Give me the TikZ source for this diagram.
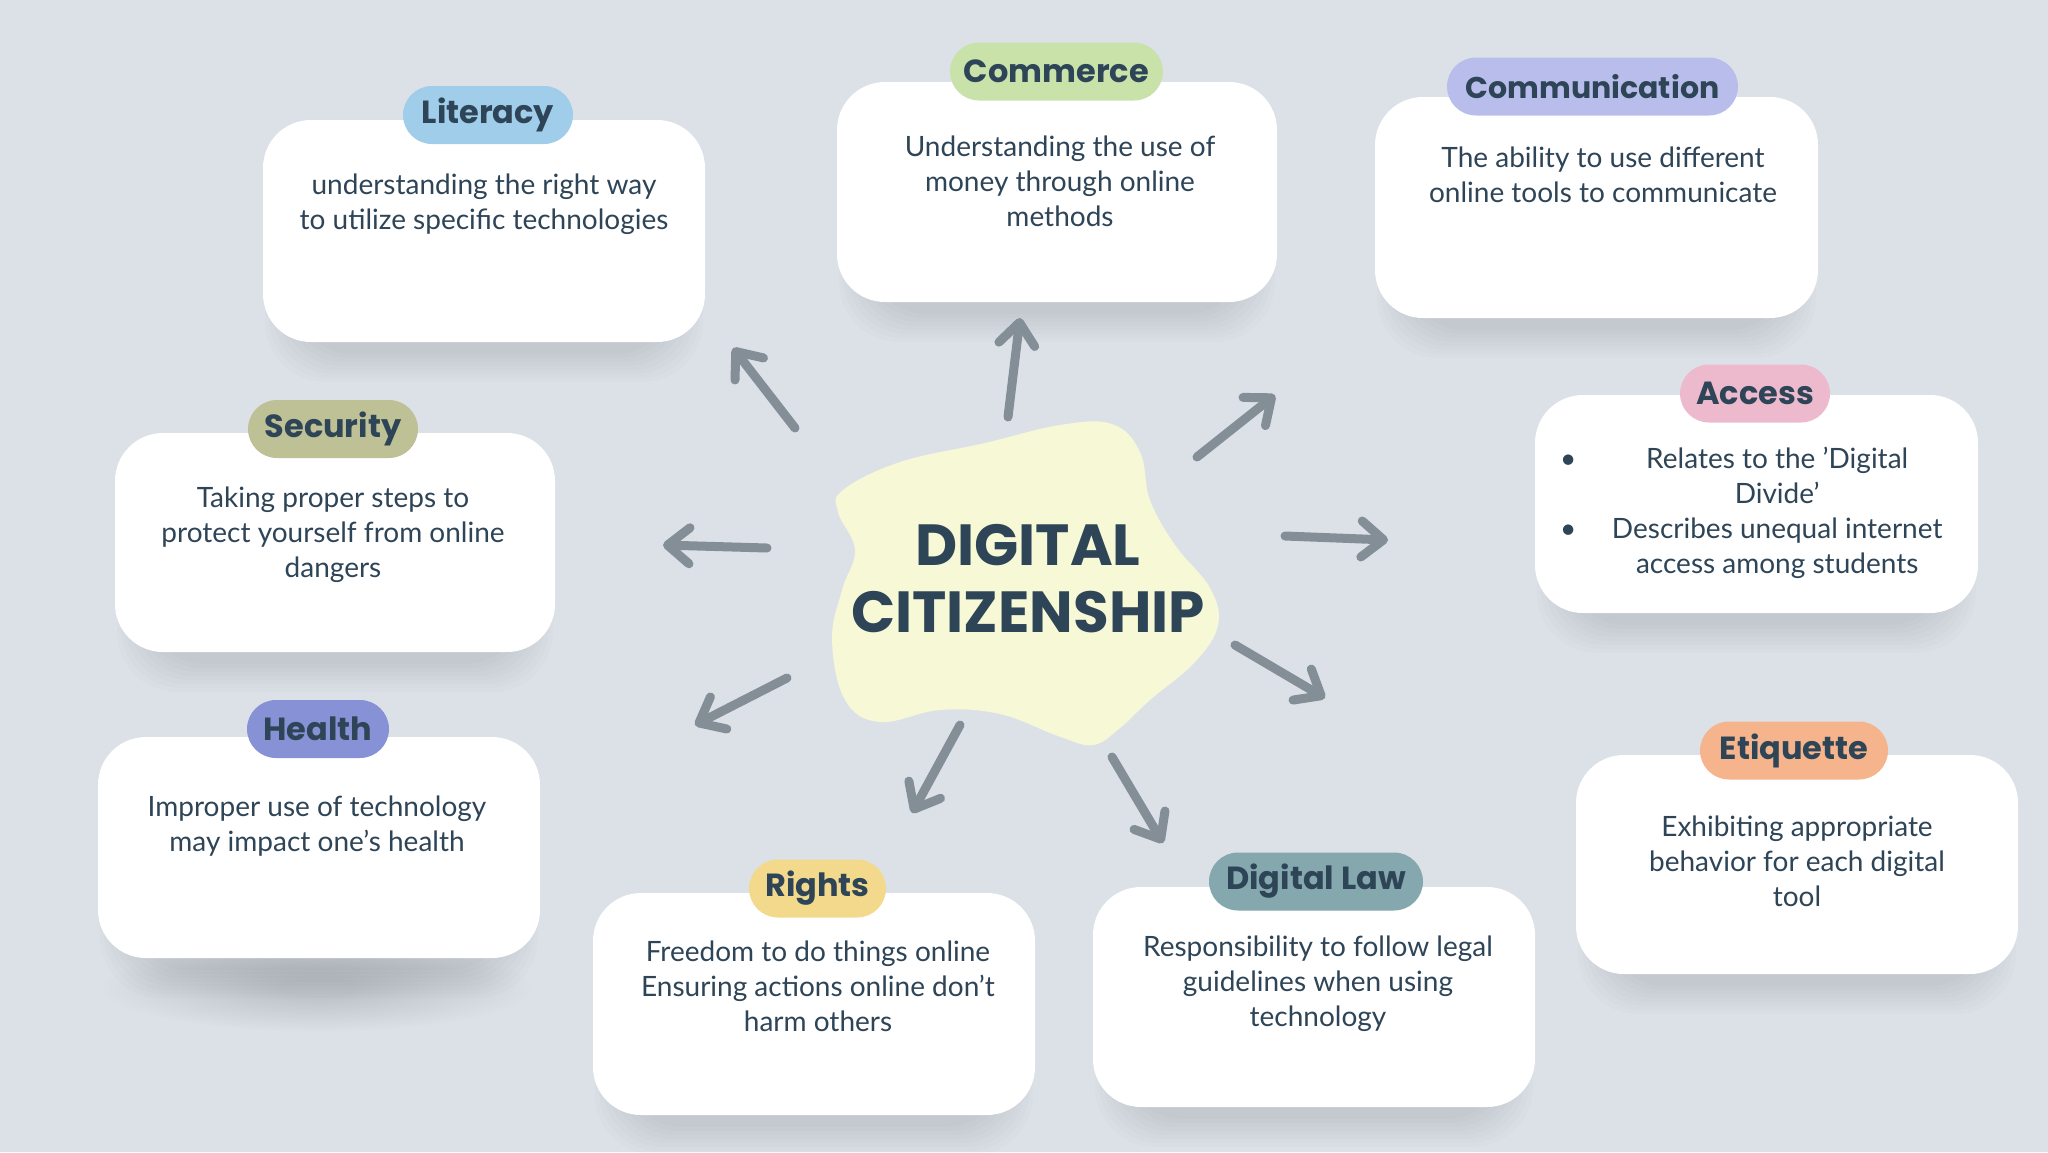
\documentclass[tikz,border=0pt]{standalone}
\usepackage{fontspec}
\setmainfont{Lato}
\newfontfamily\titlefont{Poppins}
\usetikzlibrary{arrows.meta}
\definecolor{bgc}{HTML}{DCE1E8}
\definecolor{ink}{HTML}{2E4457}
\definecolor{arrowc}{HTML}{848E97}
\definecolor{blobc}{HTML}{F6F8D6}
\definecolor{cLit}{HTML}{A0CDE9}
\definecolor{cCom}{HTML}{C8E2AA}
\definecolor{cComm}{HTML}{B9BDEC}
\definecolor{cAcc}{HTML}{EDBACD}
\definecolor{cSec}{HTML}{BEC096}
\definecolor{cHea}{HTML}{8791D6}
\definecolor{cRig}{HTML}{F3D98C}
\definecolor{cLaw}{HTML}{84A8AD}
\definecolor{cEti}{HTML}{F5B48B}
\tikzset{
  card/.style={fill=white, rounded corners=48pt, inner sep=0pt},
  pill/.style={rounded corners=29pt, minimum height=58pt, inner sep=0pt,
    font=\titlefont\bfseries\fontsize{32}{40}\selectfont, text=ink},
  body/.style={font=\fontsize{28}{35}\selectfont, text=ink, align=center, inner sep=0pt, anchor=north},
  hubtext/.style={font=\titlefont\bfseries\fontsize{58}{67}\selectfont, text=ink, align=center, inner sep=0pt},
  spoke/.style={draw=arrowc, line width=9pt, line cap=round,
    -{Straight Barb[length=22pt, width=36pt, round]}},
}
\newcommand\cardshadow[4]{%
  \foreach \k in {0,...,7}{
    \fill[black, opacity=0.011, rounded corners=60pt]
      (#1-#3/2+30-\k*4, #2-#4/2+40-\k*2) rectangle (#1+#3/2-30+\k*4, #2+#4/2+12+\k*4);
  }}
\begin{document}
\begin{tikzpicture}[x=1pt,y=-1pt]
\fill[bgc] (0,0) rectangle (2048,1152);
\useasboundingbox (0,0) rectangle (2048,1152);

% health ground shadow
\foreach \k in {0,...,29}{
  \fill[black, opacity=0.0045] (318,988) ellipse ({215-\k*6} and {44-\k*1.2});
}

% card shadows
\cardshadow{484}{231}{442}{222}
\cardshadow{1057}{192}{440}{220}
\cardshadow{1596.5}{207.5}{443}{221}
\cardshadow{1756.5}{504}{443}{218}
\cardshadow{335}{542.5}{440}{219}
\cardshadow{319}{847.5}{442}{221}
\cardshadow{814}{1004}{442}{222}
\cardshadow{1314}{997}{442}{220}
\cardshadow{1797}{864.5}{442}{219}

% cards
\node[card, minimum width=442pt, minimum height=222pt] (lit) at (484,231) {};
\node[card, minimum width=440pt, minimum height=220pt] (com) at (1057,192) {};
\node[card, minimum width=443pt, minimum height=221pt] (comm) at (1596.5,207.5) {};
\node[card, minimum width=443pt, minimum height=218pt] (acc) at (1756.5,504) {};
\node[card, minimum width=440pt, minimum height=219pt] (sec) at (335,542.5) {};
\node[card, minimum width=442pt, minimum height=221pt] (hea) at (319,847.5) {};
\node[card, minimum width=442pt, minimum height=222pt] (rig) at (814,1004) {};
\node[card, minimum width=442pt, minimum height=220pt] (law) at (1314,997) {};
\node[card, minimum width=442pt, minimum height=219pt] (eti) at (1797,864.5) {};

% title pills
\node[pill, fill=cLit, minimum width=170pt] (litT) at (488,115) {Literacy};
\node[pill, fill=cCom, minimum width=213pt] (comT) at (1056.5,71.5) {Commerce};
\node[pill, fill=cComm, minimum width=291pt, font=\titlefont\bfseries\fontsize{30}{40}\selectfont] (commT) at (1592.5,86.5) {Communication};
\node[pill, fill=cAcc, minimum width=150pt] (accT) at (1755,393.5) {Access};
\node[pill, fill=cSec, minimum width=170pt] (secT) at (333,429) {Security};
\node[pill, fill=cHea, minimum width=142pt] (heaT) at (318,729) {Health};
\node[pill, fill=cRig, minimum width=137pt] (rigT) at (817.5,888.5) {Rights};
\node[pill, fill=cLaw, minimum width=214pt] (lawT) at (1316,881.5) {Digital Law};
\node[pill, fill=cEti, minimum width=188pt] (etiT) at (1794,750.5) {Etiquette};

% body texts
\node[body] (litB) at (484,174) {understanding the right way\\to utilize specific technologies};
\node[body] (comB) at (1060,136) {Understanding the use of\\money through online\\methods};
\node[body] (commB) at (1603,147) {The ability to use different\\online tools to communicate};
\node[body] (secB) at (333,487) {Taking proper steps to\\protect yourself from online\\dangers};
\node[body] (heaB) at (317,796) {Improper use of technology\\may impact one's health};
\node[body] (rigB) at (818,941) {Freedom to do things online\\Ensuring actions online don't\\harm others};
\node[body] (lawB) at (1318,936) {Responsibility to follow legal\\guidelines when using\\technology};
\node[body] (etiB) at (1797,816) {Exhibiting appropriate\\behavior for each digital\\tool};
\node[body, anchor=north west] (accB) at (1560,444) {%
  \begin{tabular}{@{}l@{}l@{}}
  \makebox[20pt][l]{•} & \makebox[394pt]{Relates to the 'Digital}\\
   & \makebox[394pt]{Divide'}\\
  \makebox[20pt][l]{•} & \makebox[394pt]{Describes unequal internet}\\
   & \makebox[394pt]{access among students}
  \end{tabular}};

% central blob
\fill[blobc] plot[smooth cycle, tension=0.65] coordinates {
  (843,490) (900,462) (985,443) (1060,425) (1112,424) (1140,452) (1150,500)
  (1175,545) (1210,588) (1218,625) (1195,662) (1150,700) (1120,728) (1093,745)
  (1058,736) (1000,714) (940,710) (880,722) (845,700) (832,640) (842,590)
  (855,550) (838,512)};
\node[hubtext] (hub) at (1028,578.5) {DIGITAL\\CITIZENSHIP};

% spokes
\coordinate (litS) at (795,428);  \coordinate (litE) at (733,348);
\coordinate (comS) at (1008,417); \coordinate (comE) at (1020,318);
\coordinate (secS) at (767,548);  \coordinate (secE) at (663,545);
\coordinate (heaS) at (787,678);  \coordinate (heaE) at (695,725);
\coordinate (commS) at (1197,457); \coordinate (commE) at (1275,395);
\coordinate (accS) at (1285,536); \coordinate (accE) at (1388,540);
\coordinate (etiS) at (1235,645); \coordinate (etiE) at (1325,698);
\coordinate (rigS) at (960,725);  \coordinate (rigE) at (912,813);
\coordinate (lawS) at (1112,757); \coordinate (lawE) at (1163,843);
\foreach \n in {lit,com,sec,hea,comm,acc,eti,rig,law}{
  \draw[spoke] (\n S) -- (\n E);
}
\end{tikzpicture}
\end{document}
